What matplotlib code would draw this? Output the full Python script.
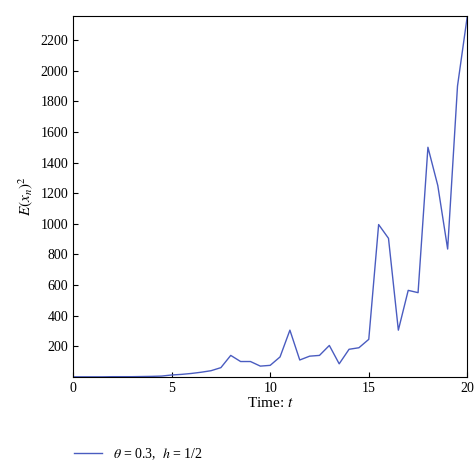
import numpy as np
import matplotlib.pyplot as plt

plt.rcParams['font.family'] = ['Liberation Serif', 'DejaVu Serif']
plt.rcParams['mathtext.fontset'] = 'stix'

t = np.arange(0, 20.5, 0.5)
ex2 = [0, 0, 0, 0, 0, 1, 1, 1, 2, 3, 5, 12, 16, 22, 30, 40, 60, 140, 100, 100,
       70, 75, 130, 305, 110, 135, 140, 205, 85, 180, 190, 245, 995, 905, 305,
       565, 550, 1500, 1250, 835, 1900, 2360]
ex2 = ex2[-len(t):]

fig = plt.figure(figsize=(4.74, 4.74), dpi=100)
ax = fig.add_axes([0.154, 0.205, 0.832, 0.762])
ax.plot(t, ex2, color='#4a5cc0', lw=1.0, label=r'$\theta$ = 0.3,  $h$ = 1/2')
ax.set_xlim(0, 20)
ax.set_ylim(0, 2360)
ax.set_xticks([0, 5, 10, 15, 20])
ax.set_yticks(range(200, 2201, 200))
ax.tick_params(direction='in', labelsize=10)
ax.set_xlabel(r'Time: $t$', fontsize=11, labelpad=1)
ax.set_ylabel(r'$E(x_n)^2$', fontsize=11)
fig.legend(loc='lower left', bbox_to_anchor=(0.13, 0.0), frameon=False, fontsize=10)
fig.savefig('out.png')
